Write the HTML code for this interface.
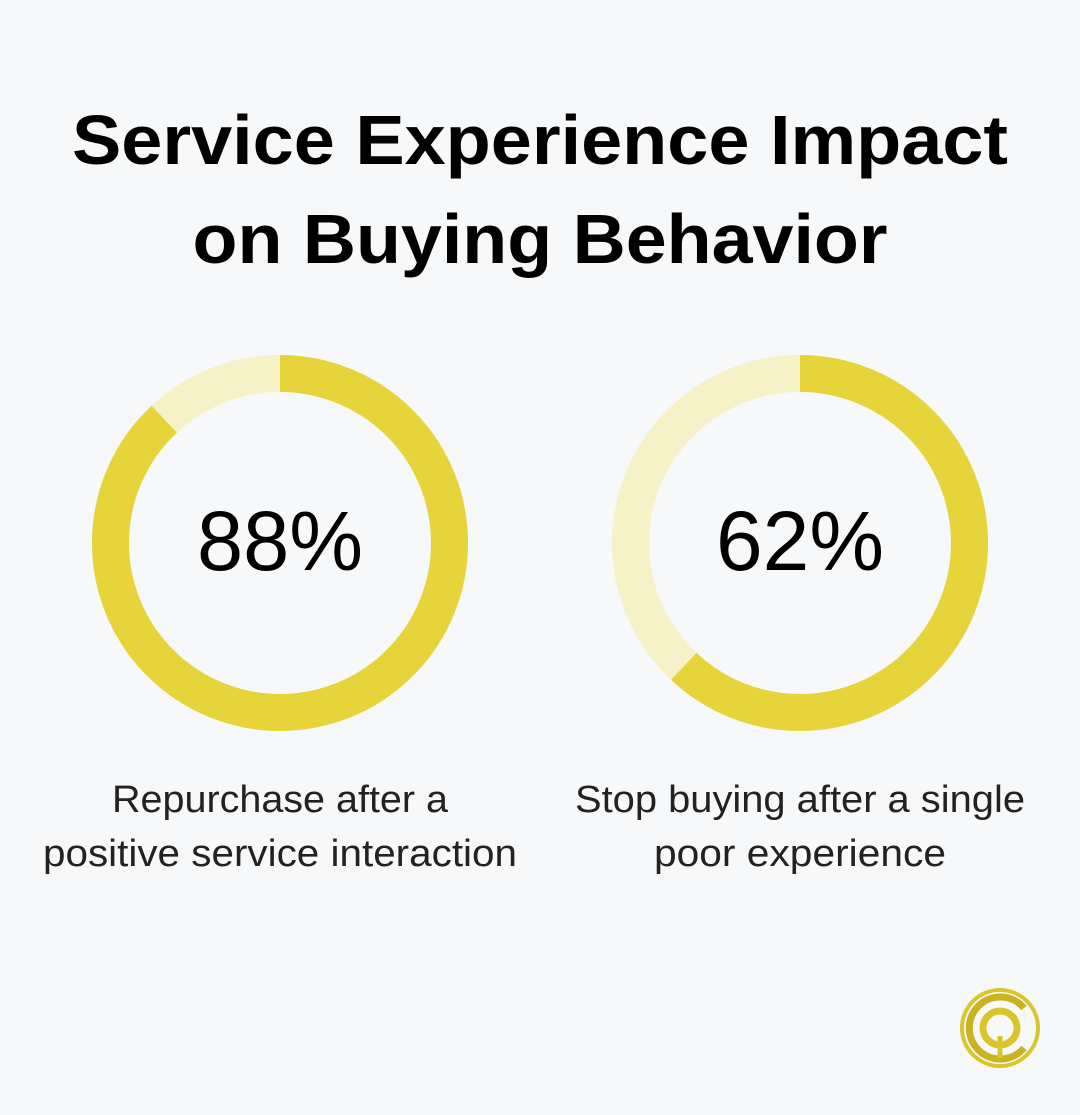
<!DOCTYPE html>
<html><head><style>
body{margin:0;width:1080px;height:1110px;background:#F6F8FA;overflow:hidden;font-family:"Liberation Sans",sans-serif;}
</style></head><body>
<svg width="1080" height="1110" xmlns="http://www.w3.org/2000/svg">
<rect width="1080" height="1110" fill="#F6F8FA"/>
<g font-family="Liberation Sans, sans-serif" text-anchor="middle" fill="#000">
<text x="540" y="164" font-size="70" font-weight="bold" textLength="936" lengthAdjust="spacingAndGlyphs">Service Experience Impact</text>
<text x="540" y="263" font-size="70" font-weight="bold" textLength="695" lengthAdjust="spacingAndGlyphs">on Buying Behavior</text>
</g>
<g transform="translate(280,543) rotate(-90)">
<circle r="169.5" fill="none" stroke="#F7F1C8" stroke-width="37"/>
<circle r="169.5" fill="none" stroke="#E6D43A" stroke-width="37" stroke-dasharray="937.2 2000"/>
</g>
<g transform="translate(800,543) rotate(-90)">
<circle r="169.5" fill="none" stroke="#F7F1C8" stroke-width="37"/>
<circle r="169.5" fill="none" stroke="#E6D43A" stroke-width="37" stroke-dasharray="660.3 2000"/>
</g>
<g font-family="Liberation Sans, sans-serif" text-anchor="middle" fill="#000">
<text x="280" y="570" font-size="84" textLength="166" lengthAdjust="spacingAndGlyphs">88%</text>
<text x="800" y="570" font-size="84" textLength="168" lengthAdjust="spacingAndGlyphs">62%</text>
</g>
<g font-family="Liberation Sans, sans-serif" text-anchor="middle" fill="#222" font-size="38">
<text x="280" y="812" textLength="336" lengthAdjust="spacingAndGlyphs">Repurchase after a</text>
<text x="280" y="866" textLength="474" lengthAdjust="spacingAndGlyphs">positive service interaction</text>
<text x="800" y="812" textLength="450" lengthAdjust="spacingAndGlyphs">Stop buying after a single</text>
<text x="800" y="866" textLength="292" lengthAdjust="spacingAndGlyphs">poor experience</text>
</g>
<g transform="translate(1000,1028)">
<circle r="38" fill="none" stroke="#D9C62A" stroke-width="4"/>
<path d="M 24 -20 A 31 31 0 1 0 24 20" fill="none" stroke="#C9B420" stroke-width="7"/>
<circle r="17" fill="none" stroke="#D9C62A" stroke-width="7"/>
<line x1="0" y1="8" x2="0" y2="30" stroke="#D9C62A" stroke-width="5"/>
</g>
</svg>
</body></html>
